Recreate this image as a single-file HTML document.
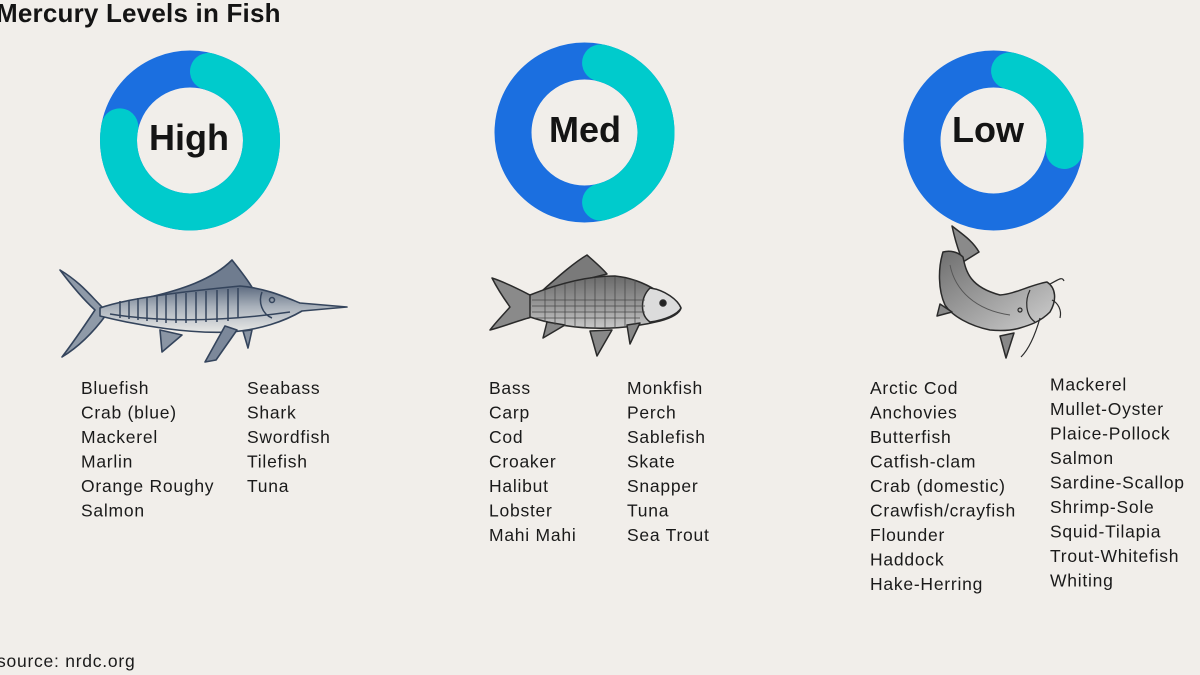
<!DOCTYPE html>
<html><head><meta charset="utf-8"><style>
html,body{margin:0;padding:0;background:#f1eeea;}
svg{display:block}
.t{font-family:"Liberation Sans",sans-serif;fill:#141414;}
.l{font-family:"Liberation Sans",sans-serif;font-size:17.5px;letter-spacing:0.75px;fill:#1a1a1a;}
</style></head><body>
<svg width="1200" height="675" viewBox="0 0 1200 675" xmlns="http://www.w3.org/2000/svg">
<defs>
<linearGradient id="mg" x1="0" y1="0" x2="0" y2="1">
<stop offset="0" stop-color="#5d6b80"/><stop offset="0.45" stop-color="#a9b1bb"/><stop offset="1" stop-color="#e8e8e6"/>
</linearGradient>
<linearGradient id="cg" x1="0" y1="0" x2="0" y2="1">
<stop offset="0" stop-color="#6a6a6a"/><stop offset="0.6" stop-color="#9c9c9c"/><stop offset="1" stop-color="#c8c8c8"/>
</linearGradient>
<linearGradient id="kg" x1="0" y1="0" x2="1" y2="1">
<stop offset="0" stop-color="#6f6f6f"/><stop offset="0.6" stop-color="#a8a8a8"/><stop offset="1" stop-color="#d0d0d0"/>
</linearGradient>
</defs>
<rect width="1200" height="675" fill="#f1eeea"/>
<text class="t" x="-4" y="22" font-size="26" font-weight="bold" letter-spacing="0.2">Mercury Levels in Fish</text>

<!-- High ring -->
<circle cx="190" cy="140.5" r="71.5" fill="none" stroke="#1b6fe0" stroke-width="37"/>
<path d="M208.5,71.44 A71.5,71.5 0 1 1 119.81,126.86" fill="none" stroke="#00cbcc" stroke-width="37" stroke-linecap="round"/>
<text class="t" x="189" y="150" font-size="36" font-weight="bold" text-anchor="middle">High</text>

<!-- Med ring -->
<circle cx="584.5" cy="132.5" r="71.5" fill="none" stroke="#1b6fe0" stroke-width="37"/>
<path d="M600.59,62.83 A71.5,71.5 0 0 1 600.59,202.17" fill="none" stroke="#00cbcc" stroke-width="37" stroke-linecap="round"/>
<text class="t" x="585" y="142" font-size="36" font-weight="bold" text-anchor="middle">Med</text>

<!-- Low ring -->
<circle cx="993.5" cy="140.5" r="71.5" fill="none" stroke="#1b6fe0" stroke-width="37"/>
<path d="M1009.59,70.83 A71.5,71.5 0 0 1 1064.3,150.45" fill="none" stroke="#00cbcc" stroke-width="37" stroke-linecap="round"/>
<text class="t" x="988" y="142" font-size="36" font-weight="bold" text-anchor="middle">Low</text>

<!-- Marlin -->
<g stroke="#34445c" stroke-width="1.6" stroke-linejoin="round">
<path d="M103,308 C90,295 80,282 60,270 C72,286 84,300 95,310 C85,325 75,340 62,357 C80,346 95,330 106,315 Z" fill="#8f9aa8"/>
<path d="M150,297 C180,290 212,280 232,260 C240,270 248,280 253,289 Z" fill="#6f7c8f"/>
<path d="M100,308 C130,297 200,290 240,286 C265,288 285,297 300,303 L347,307 L302,311 C285,321 260,330 230,332 C190,334 140,326 100,316 Z" fill="url(#mg)"/>
<path d="M225,326 L205,362 L216,360 L237,330 Z" fill="#7c889a"/>
<path d="M160,330 L162,352 L182,335 Z" fill="#8a95a4"/>
<path d="M243,331 L248,348 L252,330 Z" fill="#8a95a4"/>
<g fill="none" stroke-width="1.5">
<path d="M120,301V318M129,300V319M138,298V320M147,297V321M157,296V322M166,295V323M176,294V323M186,293V323M196,292V323M206,291V322M217,290V322M228,289V321M238,288V318"/>
<path d="M110,314 C160,322 220,322 290,312"/>
<circle cx="272" cy="300" r="2.5"/>
<path d="M262,292 C258,302 262,314 272,318"/>
</g>
</g>

<!-- Carp -->
<g stroke="#2a2a2a" stroke-width="1.5" stroke-linejoin="round">
<path d="M532,296 C520,290 505,282 492,278 C498,290 505,300 510,307 C503,315 496,322 490,330 C505,326 520,320 532,317 Z" fill="#8a8a8a"/>
<path d="M543,290 C560,275 575,262 587,255 C595,262 602,268 607,274 Z" fill="#7a7a7a"/>
<path d="M530,295 C555,285 585,276 615,276 C635,278 650,286 662,294 C672,299 680,304 681,308 C680,313 672,318 660,321 C640,326 615,329 590,328 C565,327 545,322 530,317 Z" fill="url(#cg)"/>
<path d="M650,288 C640,298 640,315 650,322 C665,320 678,314 681,308 C678,300 665,290 650,288 Z" fill="#dcdcdc"/>
<circle cx="663" cy="303" r="3" fill="#222"/>
<path d="M590,331 L597,356 L612,330 Z" fill="#888"/>
<path d="M547,322 L543,338 L565,325 Z" fill="#888"/>
<path d="M627,325 L630,344 L640,323 Z" fill="#888"/>
<g fill="none" stroke="#4a4a4a" stroke-width="0.8">
<path d="M545,290V322M555,287V325M565,284V326M575,281V327M585,279V328M595,278V328M605,277V328M615,277V328M625,278V327M635,280V325"/>
<path d="M532,300H645M532,306H645M532,312H645M535,318H640"/>
</g>
</g>

<!-- Catfish -->
<g stroke="#2a2a2a" stroke-width="1.5" stroke-linejoin="round">
<path d="M952,226 C962,234 972,240 979,252 L963,262 C958,250 955,240 952,226 Z" fill="#8a8a8a"/>
<path d="M963,257 C966,272 970,287 1000,295 C1015,294 1030,285 1047,282 C1056,288 1057,300 1050,312 C1040,322 1030,325 1020,328 C1010,331 1000,331 990,330 C970,326 952,316 945,305 C938,290 938,268 943,252 C950,250 958,252 963,257 Z" fill="url(#kg)"/>
<path d="M1000,336 L1006,358 L1014,333 Z" fill="#888"/>
<path d="M940,304 L937,316 L952,312 Z" fill="#888"/>
<g fill="none" stroke-width="1.2">
<path d="M1050,284 C1058,280 1062,276 1064,281"/>
<path d="M1040,318 C1036,332 1030,348 1021,357"/>
<path d="M1052,300 C1058,303 1062,310 1060,318"/>
<path d="M1030,290 C1025,300 1025,315 1035,322"/>
<circle cx="1020" cy="310" r="2"/>
<path d="M950,265 C955,290 975,310 1010,315" stroke="#555" stroke-width="0.9"/>
</g>
</g>

<!-- High list -->
<g class="l">
<text x="81" y="394">Bluefish</text>
<text x="81" y="418.5">Crab (blue)</text>
<text x="81" y="443">Mackerel</text>
<text x="81" y="467.5">Marlin</text>
<text x="81" y="492">Orange Roughy</text>
<text x="81" y="516.5">Salmon</text>
<text x="247" y="394">Seabass</text>
<text x="247" y="418.5">Shark</text>
<text x="247" y="443">Swordfish</text>
<text x="247" y="467.5">Tilefish</text>
<text x="247" y="492">Tuna</text>
</g>

<!-- Med list -->
<g class="l">
<text x="489" y="394">Bass</text>
<text x="489" y="418.5">Carp</text>
<text x="489" y="443">Cod</text>
<text x="489" y="467.5">Croaker</text>
<text x="489" y="492">Halibut</text>
<text x="489" y="516.5">Lobster</text>
<text x="489" y="541">Mahi Mahi</text>
<text x="627" y="394">Monkfish</text>
<text x="627" y="418.5">Perch</text>
<text x="627" y="443">Sablefish</text>
<text x="627" y="467.5">Skate</text>
<text x="627" y="492">Snapper</text>
<text x="627" y="516.5">Tuna</text>
<text x="627" y="541">Sea Trout</text>
</g>

<!-- Low list -->
<g class="l">
<text x="870" y="394">Arctic Cod</text>
<text x="870" y="418.5">Anchovies</text>
<text x="870" y="443">Butterfish</text>
<text x="870" y="467.5">Catfish-clam</text>
<text x="870" y="492">Crab (domestic)</text>
<text x="870" y="516.5">Crawfish/crayfish</text>
<text x="870" y="541">Flounder</text>
<text x="870" y="565.5">Haddock</text>
<text x="870" y="590">Hake-Herring</text>
<text x="1050" y="390.5">Mackerel</text>
<text x="1050" y="415">Mullet-Oyster</text>
<text x="1050" y="439.5">Plaice-Pollock</text>
<text x="1050" y="464">Salmon</text>
<text x="1050" y="488.5">Sardine-Scallop</text>
<text x="1050" y="513">Shrimp-Sole</text>
<text x="1050" y="537.5">Squid-Tilapia</text>
<text x="1050" y="562">Trout-Whitefish</text>
<text x="1050" y="586.5">Whiting</text>
</g>

<text class="l" x="-3" y="667">source: nrdc.org</text>
</svg>
</body></html>
